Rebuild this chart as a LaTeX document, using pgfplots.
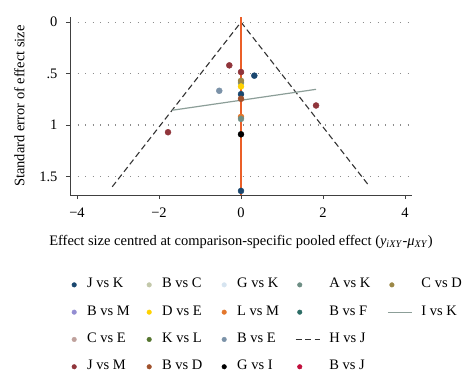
\documentclass[border=0pt]{standalone}
\usepackage{fontspec}
\setmainfont{Liberation Serif}
\usepackage{pgfplots}
\pgfplotsset{compat=1.18}
\definecolor{cnavy}{RGB}{26,71,111}
\definecolor{cmaroon}{RGB}{144,53,59}
\definecolor{cforest}{RGB}{85,117,47}
\definecolor{cdkorange}{RGB}{227,119,44}
\definecolor{cteal}{RGB}{110,142,132}
\definecolor{ccranberry}{RGB}{193,15,60}
\definecolor{clavender}{RGB}{147,141,210}
\definecolor{ckhaki}{RGB}{195,200,170}
\definecolor{csienna}{RGB}{160,82,45}
\definecolor{cemidblue}{RGB}{123,146,168}
\definecolor{cemerald}{RGB}{45,109,102}
\definecolor{cbrown}{RGB}{156,136,71}
\definecolor{cerose}{RGB}{191,161,156}
\definecolor{cgold}{RGB}{255,210,0}
\definecolor{cbluish}{RGB}{214,228,240}
\definecolor{cgrayline}{RGB}{140,158,152}
\definecolor{corangeline}{RGB}{235,95,40}
\newcommand{\lt}[1]{\makebox[67bp][l]{\hspace{9bp}#1}}
\pgfplotsset{
  mk/.style={legend image code/.code={\path[draw=none,fill=none] (0bp,0bp) -- (8bp,0bp); \fill[#1] (4bp,0bp) circle (2.3bp);}},
  ln/.style={legend image code/.code={\draw[#1] (0bp,0bp) -- (24bp,0bp);}},
}
\begin{document}
\begin{tikzpicture}[font=\fontsize{14.5bp}{17bp}\selectfont]
\path[use as bounding box] (-70bp,-193bp) rectangle (404bp,195bp);
\begin{axis}[
  at={(0,0)}, anchor=south west,
  scale only axis, width=342bp, height=178bp,
  xmin=-4.17, xmax=4.17, ymin=-0.05, ymax=1.68, y dir=reverse,
  axis x line*=bottom, axis y line*=left,
  axis line style={black!75, line width=0.8bp},
  tick style={black!75, line width=0.8bp},
  tick align=outside, major tick length=4bp,
  xtick={-4,-2,0,2,4}, xticklabels={−4,−2,0,2,4},
  ytick={0,0.5,1,1.5}, yticklabels={0,.5,1,1.5},
  xticklabel style={yshift=-5bp},
  yticklabel style={xshift=-5bp},
  ymajorgrids, grid style={black!45, line width=1.2bp, dash pattern=on 1.2bp off 6.3bp},
  xlabel={Effect size centred at comparison-specific pooled effect (\textit{y}\textsubscript{\textit{iXY}}-\textit{μ}\textsubscript{\textit{XY}})},
  ylabel={Standard error of effect size},
  xlabel style={yshift=-11bp},
  ylabel style={yshift=8bp},
  legend style={at={(0,-0.47)}, anchor=north west, draw=none, fill=none, inner sep=0pt,
    nodes={inner sep=0pt, text height=9bp, text depth=3bp},
    row sep=15.3bp, font=\fontsize{14.5bp}{17bp}\selectfont},
  legend columns=5,
]
% pseudo confidence triangle
\addplot[forget plot, color=black!80, line width=1.1bp, dash pattern=on 6bp off 3.5bp] coordinates {(-3.14,1.6) (0,0) (3.14,1.6)};
% vertical line at zero
\addplot[forget plot, color=corangeline, draw=corangeline, line width=1.2bp] coordinates {(0,-0.06) (0,1.68)};
% regression line
\addplot[forget plot, color=cgrayline, line width=1.2bp] coordinates {(-1.69,0.857) (1.83,0.653)};
% points
\addplot[forget plot, only marks, mark=*, mark size=3bp, color=cmaroon] coordinates {(-0.285,0.42) (0,0.485) (1.83,0.81) (-1.78,1.07)};
\addplot[forget plot, only marks, mark=*, mark size=3bp, color=cnavy] coordinates {(0.325,0.52) (0,0.70) (0,1.64)};
\addplot[forget plot, only marks, mark=*, mark size=3bp, color=cteal] coordinates {(0,0.59)};
\addplot[forget plot, only marks, mark=*, mark size=3bp, color=cbrown] coordinates {(0,0.57)};
\addplot[forget plot, only marks, mark=*, mark size=3bp, color=cgold] coordinates {(0,0.625)};
\addplot[forget plot, only marks, mark=*, mark size=3bp, color=cemidblue] coordinates {(-0.53,0.667)};
\addplot[forget plot, only marks, mark=*, mark size=3bp, color=csienna] coordinates {(0,0.745)};
\addplot[forget plot, only marks, mark=*, mark size=3bp, color=cdkorange] coordinates {(0,0.92)};
\addplot[forget plot, only marks, mark=*, mark size=3bp, color=cteal] coordinates {(0,0.94)};
\addplot[forget plot, only marks, mark=*, mark size=3bp, color=black] coordinates {(0,1.09)};
% legend (row-major)
\addlegendimage{mk=cnavy}\addlegendentry{\lt{J vs K}}
\addlegendimage{mk=ckhaki}\addlegendentry{\lt{B vs C}}
\addlegendimage{mk=cbluish}\addlegendentry{\lt{G vs K}}
\addlegendimage{mk=cteal}\addlegendentry{\lt{A vs K}}
\addlegendimage{mk=cbrown}\addlegendentry{\lt{C vs D}}
\addlegendimage{mk=clavender}\addlegendentry{\lt{B vs M}}
\addlegendimage{mk=cgold}\addlegendentry{\lt{D vs E}}
\addlegendimage{mk=cdkorange}\addlegendentry{\lt{L vs M}}
\addlegendimage{mk=cemerald}\addlegendentry{\lt{B vs F}}
\addlegendimage{ln={cgrayline, line width=1.2bp}}\addlegendentry{\lt{I vs K}}
\addlegendimage{mk=cerose}\addlegendentry{\lt{C vs E}}
\addlegendimage{mk=cforest}\addlegendentry{\lt{K vs L}}
\addlegendimage{mk=cemidblue}\addlegendentry{\lt{B vs E}}
\addlegendimage{ln={black!80, line width=1.1bp, dash pattern=on 6bp off 3.5bp}}\addlegendentry{\lt{H vs J}}
\addlegendimage{empty legend}\addlegendentry{}
\addlegendimage{mk=cmaroon}\addlegendentry{\lt{J vs M}}
\addlegendimage{mk=csienna}\addlegendentry{\lt{B vs D}}
\addlegendimage{mk=black}\addlegendentry{\lt{G vs I}}
\addlegendimage{mk=ccranberry}\addlegendentry{\lt{B vs J}}
\end{axis}
\end{tikzpicture}
\end{document}
